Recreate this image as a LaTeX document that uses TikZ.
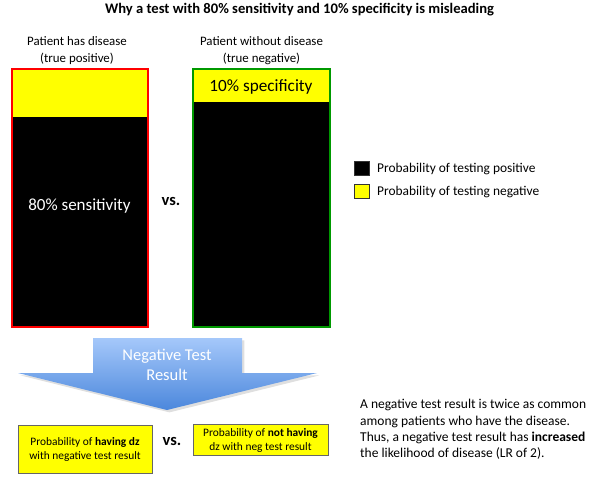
\documentclass[tikz,border=0pt]{standalone}
\usepackage{fontspec}
\setmainfont{Carlito}
\usetikzlibrary{shadows}
\definecolor{ylw}{RGB}{255,255,0}
\definecolor{bluetop}{RGB}{165,200,250}
\definecolor{bluebot}{RGB}{75,135,220}
\begin{document}
\begin{tikzpicture}[x=1pt,y=-1pt,
  lbl/.style={font=\fontsize{12.9}{16.5}\selectfont, align=center},
  legtext/.style={font=\fontsize{13.4}{15}\selectfont, anchor=west, inner sep=0pt},
  legbox/.style={draw=black!80, line width=1pt, minimum width=15pt, minimum height=14pt, inner sep=0pt},
  probbox/.style={fill=ylw, draw=black!60, line width=0.6pt, align=center, font=\fontsize{11.4}{14}\selectfont, drop shadow={opacity=0.3, shadow xshift=1pt, shadow yshift=-1pt}},
  vs/.style={font=\bfseries\fontsize{16.5}{18}\selectfont}]
\useasboundingbox (0,0) rectangle (600,483);
% title
\node[font=\bfseries\fontsize{14.6}{17}\selectfont] (title) at (299.5,10) {Why a test with 80\% sensitivity and 10\% specificity is misleading};
% headings
\node[lbl] (hl) at (77,50.5) {Patient has disease\\(true positive)};
\node[lbl] (hr) at (261.5,50.5) {Patient without disease\\(true negative)};
% left bar
\fill[ylw] (12,69) rectangle (148,117);
\fill[black] (12,117) rectangle (148,327);
\draw[red, line width=2pt] (12,69) rectangle (148,327);
\node[white, font=\fontsize{17}{19}\selectfont] (sens) at (79.5,206) {80\% sensitivity};
% right bar
\fill[ylw] (193,69) rectangle (330,102);
\fill[black] (193,102) rectangle (330,327);
\draw[green!60!black, line width=2pt] (193,69) rectangle (330,327);
\node[font=\fontsize{17.2}{19}\selectfont] (spec) at (261,87) {10\% specificity};
\node[vs] (vs1) at (171,201) {vs.};
% legend
\node[legbox, fill=black] (lk) at (362,168.5) {};
\node[legtext] (lkt) at (377,168.5) {Probability of testing positive};
\node[legbox, fill=ylw] (ly) at (362,191) {};
\node[legtext] (lyt) at (377,191.5) {Probability of testing negative};
% arrow
\shade[top color=bluetop, bottom color=bluebot, drop shadow={opacity=0.25}]
  (93,338) -- (242,338) -- (242,373) -- (317,373) -- (167,410) -- (18,373) -- (93,373) -- cycle;
\node[white, align=center, font=\fontsize{16.5}{20}\selectfont] (neg) at (167,365) {Negative Test\\Result};
% bottom boxes
\node[probbox, minimum width=134pt, minimum height=48pt] (pb1) at (85,449) {Probability of \textbf{having dz}\\with negative test result};
\node[vs] (vs2) at (172,441) {vs.};
\node[probbox, minimum width=135pt, minimum height=30pt] (pb2) at (260.5,440) {Probability of \textbf{not having}\\dz with neg test result};
% explanation
\node[anchor=west, align=left, font=\fontsize{13.5}{16.3}\selectfont, inner sep=0pt] (expl) at (360,429.5) {A negative test result is twice as common\\among patients who have the disease.\\Thus, a negative test result has \textbf{increased}\\the likelihood of disease (LR of 2).};
\end{tikzpicture}
\end{document}
